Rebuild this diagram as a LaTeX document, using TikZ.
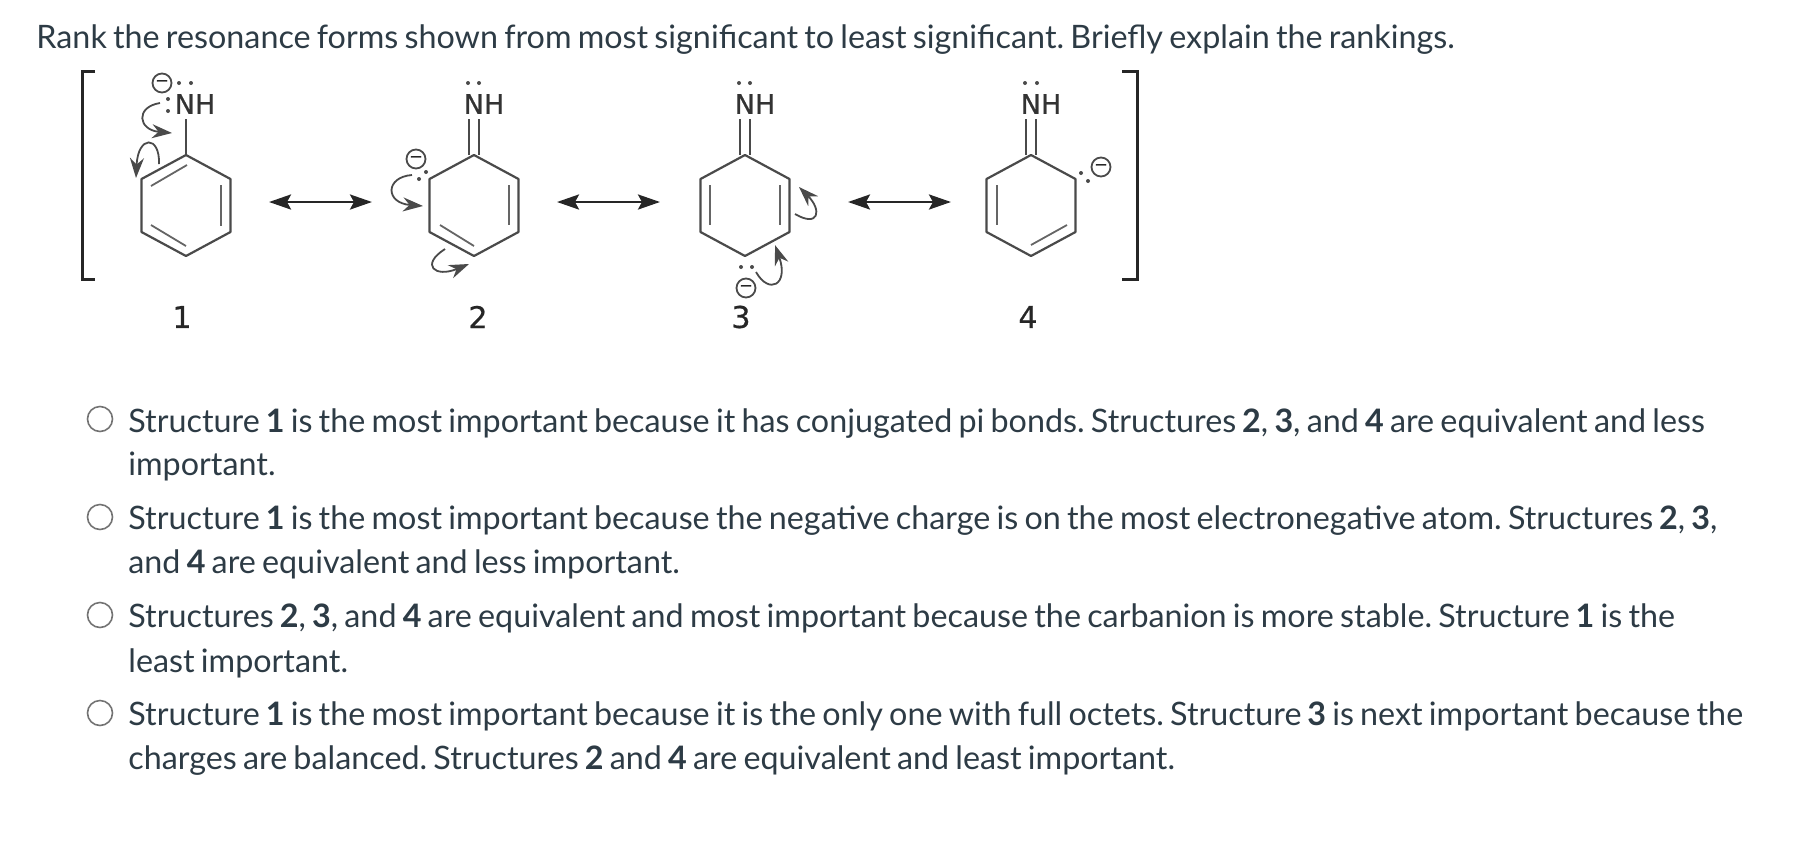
\documentclass[tikz,border=0pt]{standalone}
\usepackage{fontspec}
\setmainfont[WordSpace=0.75]{Lato}
\newfontfamily\chemfont[FakeBold=0.6]{DejaVu Sans}
\usetikzlibrary{arrows.meta}
\definecolor{canvastext}{HTML}{2D3B45}
\definecolor{bondgray}{HTML}{4A4A4A}
\tikzset{
	bondline/.style={draw=bondgray, line width=1.1pt, line join=round},
	innerbond/.style={draw=bondgray!85, line width=0.9pt},
	bracketline/.style={draw=black!85, line width=1.5pt},
	pushcurve/.style={draw=bondgray, line width=0.9pt, arrows={-Stealth[length=10pt, width=7pt]}},
	resonancearrow/.style={draw=black!85, line width=1.4pt, arrows={Stealth[length=11pt, width=7.5pt, inset=2pt]-Stealth[length=11pt, width=7.5pt, inset=2pt]}},
	charge/.style={draw=bondgray, circle, line width=0.9pt, inner sep=0pt, minimum size=9.5pt, font=\chemfont\fontsize{8}{8}\selectfont, text=black!85},
	aminelabel/.style={font=\chemfont\fontsize{13.5}{13.5}\selectfont, text=black!80, inner sep=0pt},
	numberlabel/.style={font=\chemfont\fontsize{15}{15}\selectfont, text=black!85, inner sep=0pt},
	answertext/.style={anchor=base west, inner sep=0pt, text=canvastext, font=\fontsize{16.15}{16.15}\selectfont\frenchspacing},
	radiobox/.style={draw=black!55, circle, line width=0.8pt, inner sep=0pt, minimum size=12.5pt}
}
\begin{document}
\begin{tikzpicture}[x=0.5pt, y=-0.5pt]
	\useasboundingbox (0,0) rectangle (1810,858);
	% question
	\node [answertext] (question) at (36,48) {Rank the resonance forms shown from most significant to least significant. Briefly explain the rankings.};
	% brackets
	\draw [bracketline] (95,71) -- (82,71) -- (82,279) -- (95,279);
	\draw [bracketline] (1122,71) -- (1137,71) -- (1137,279) -- (1122,279);
	% rings
	\foreach \rx in {186,474,745,1031}
		\draw [bondline] (\rx,155) -- ++(44.5,24) -- ++(0,53) -- ++(-44.5,24) -- ++(-44.5,-24) -- ++(0,-53) -- cycle;
	% inner bonds
	\draw [innerbond] (151,186) -- (187,165);
	\draw [innerbond] (221,185) -- (221,226);
	\draw [innerbond] (151,225) -- (186,246);
	\draw [innerbond] (509,185) -- (509,225);
	\draw [innerbond] (440,225) -- (474,246);
	\draw [innerbond] (710,185) -- (710,225);
	\draw [innerbond] (780,185) -- (780,225);
	\draw [innerbond] (997,185) -- (997,225);
	\draw [innerbond] (1031,245) -- (1067,225);
	% amine groups
	\node [aminelabel] (nh1) at (195,104) {NH};
	\node [aminelabel] (nh2) at (484,104) {NH};
	\node [aminelabel] (nh3) at (755,104) {NH};
	\node [aminelabel] (nh4) at (1041,104) {NH};
	\draw [bondline] (186,119) -- (186,155);
	\foreach \bx in {469,740,1026} {
		\draw [bondline] (\bx,119) -- (\bx,155);
		\draw [bondline] (\bx+10,119) -- (\bx+10,155);
	}
	% lone pairs
	\foreach \px/\py in {179/83, 191/83, 168/99, 168/111, 468/83, 479/83, 426/172, 419/179, 739/83, 750/83, 741/267, 752/267, 1025/83, 1037/83, 1081/173, 1088/181}
		\fill [bondgray] (\px,\py) circle (1pt);
	% charges
	\node [charge] (minus1) at (162,83) {−};
	\node [charge] (minus2) at (416,159) {−};
	\node [charge] (minus3) at (746,288) {−};
	\node [charge] (minus4) at (1101,167) {−};
	% curved arrows
	\draw [pushcurve] (160,103) .. controls (135,107) and (138,130) .. (172,133);
	\draw [pushcurve] (159,164) .. controls (160,135) and (138,135) .. (136,178);
	\draw [pushcurve] (412,175) .. controls (385,177) and (385,203) .. (423,206);
	\draw [pushcurve] (445,249) .. controls (420,265) and (435,278) .. (469,264);
	\draw [pushcurve] (756,272) .. controls (769,295) and (789,285) .. (775,245);
	\draw [pushcurve] (795,214) .. controls (819,228) and (822,210) .. (799,187);
	% resonance arrows
	\draw [resonancearrow] (269,202) -- (372,202);
	\draw [resonancearrow] (557,202) -- (660,202);
	\draw [resonancearrow] (848,202) -- (951,202);
	% numbers
	\node [numberlabel] (num1) at (182,317) {1};
	\node [numberlabel] (num2) at (478,317) {2};
	\node [numberlabel] (num3) at (741,317) {3};
	\node [numberlabel] (num4) at (1028,317) {4};
	% answer choices
	\foreach \ry in {419,517,615,713}
		\node [radiobox] at (100,\ry) {};
	\node [answertext] (optA) at (128,432) {Structure \textbf{1} is the most important because it has conjugated pi bonds. Structures \textbf{2}, \textbf{3}, and \textbf{4} are equivalent and less};
	\node [answertext] (optAb) at (128,475) {important.};
	\node [answertext] (optB) at (128,529) {Structure \textbf{1} is the most important because the negative charge is on the most electronegative atom. Structures \textbf{2}, \textbf{3},};
	\node [answertext] (optBb) at (128,573) {and \textbf{4} are equivalent and less important.};
	\node [answertext] (optC) at (128,627) {Structures \textbf{2}, \textbf{3}, and \textbf{4} are equivalent and most important because the carbanion is more stable. Structure \textbf{1} is the};
	\node [answertext] (optCb) at (128,672) {least important.};
	\node [answertext] (optD) at (128,725) {Structure \textbf{1} is the most important because it is the only one with full octets. Structure \textbf{3} is next important because the};
	\node [answertext] (optDb) at (128,769) {charges are balanced. Structures \textbf{2} and \textbf{4} are equivalent and least important.};
\end{tikzpicture}
\end{document}
